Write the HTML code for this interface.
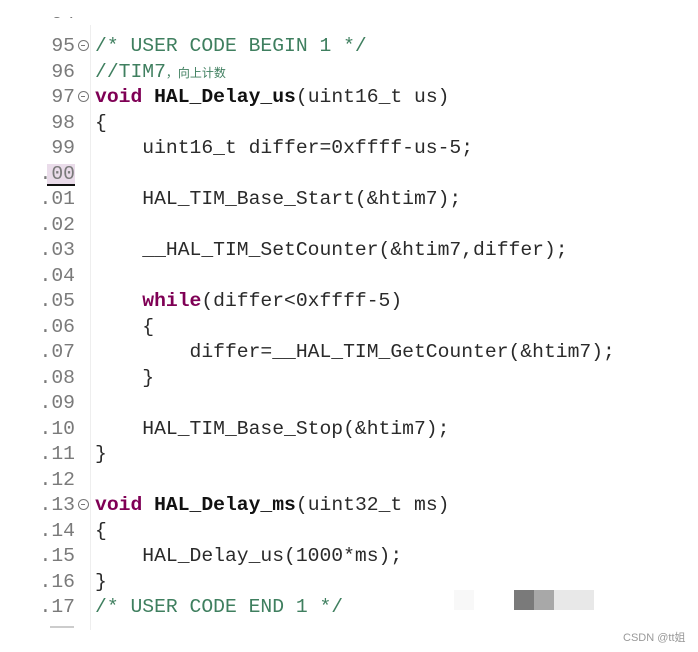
<!DOCTYPE html>
<html><head><meta charset="utf-8"><style>
body{margin:0;width:698px;height:652px;background:#fff;position:relative;overflow:hidden;font-family:"Liberation Mono","Noto Sans CJK SC",monospace;}
.l{position:absolute;left:0;width:698px;height:24px;line-height:24px;font-size:19.7px;white-space:pre;color:#2a2a2a;}
.n{position:absolute;right:623px;top:0;color:#7a7a7a;}
.c{position:absolute;left:95px;top:0;}
.cm{color:#3f7f5f}
.kw{color:#7f0055;font-weight:bold}
.b{font-weight:bold;color:#111}
.f{position:absolute;left:78px;top:6px;width:11px;height:11px;border:1.5px solid #777;border-radius:50%;box-sizing:border-box;}
.f:after{content:"";position:absolute;left:2px;top:3.5px;width:4px;height:1.5px;background:#777;}
.gut{position:absolute;left:90px;top:25px;width:1px;height:605px;background:#eee;}
</style></head><body>
<div class="gut"></div>
<div style="position:absolute;left:0;top:17px;width:698px;height:5px;overflow:hidden"><div class="l" style="top:-16px"><span class="n">94</span></div></div>
<div class="l" style="top:34px"><span class="n">95</span><span class="f"></span><span class="c cm">/* USER CODE BEGIN 1 */</span></div>
<div class="l" style="top:60px"><span class="n">96</span><span class="c cm">//TIM7<span style="font-size:12px;font-family:'Noto Sans CJK SC',sans-serif">，向上计数</span></span></div>
<div class="l" style="top:85px"><span class="n">97</span><span class="f"></span><span class="c"><span class="kw">void</span> <span class="b">HAL_Delay_us</span>(uint16_t us)</span></div>
<div class="l" style="top:111px"><span class="n">98</span><span class="c">{</span></div>
<div class="l" style="top:136px"><span class="n">99</span><span class="c">    uint16_t differ=0xffff-us-5;</span></div>
<div style="position:absolute;left:47px;top:164px;width:28px;height:20px;background:#eadcea"></div>
<div style="position:absolute;left:47px;top:184px;width:28px;height:2px;background:#111"></div>
<div class="l" style="top:162px"><span class="n">.00</span></div>
<div class="l" style="top:187px"><span class="n">.01</span><span class="c">    HAL_TIM_Base_Start(&amp;htim7);</span></div>
<div class="l" style="top:213px"><span class="n">.02</span></div>
<div class="l" style="top:238px"><span class="n">.03</span><span class="c">    __HAL_TIM_SetCounter(&amp;htim7,differ);</span></div>
<div class="l" style="top:264px"><span class="n">.04</span></div>
<div class="l" style="top:289px"><span class="n">.05</span><span class="c">    <span class="kw">while</span>(differ&lt;0xffff-5)</span></div>
<div class="l" style="top:315px"><span class="n">.06</span><span class="c">    {</span></div>
<div class="l" style="top:340px"><span class="n">.07</span><span class="c">        differ=__HAL_TIM_GetCounter(&amp;htim7);</span></div>
<div class="l" style="top:366px"><span class="n">.08</span><span class="c">    }</span></div>
<div class="l" style="top:391px"><span class="n">.09</span></div>
<div class="l" style="top:417px"><span class="n">.10</span><span class="c">    HAL_TIM_Base_Stop(&amp;htim7);</span></div>
<div class="l" style="top:442px"><span class="n">.11</span><span class="c">}</span></div>
<div class="l" style="top:468px"><span class="n">.12</span></div>
<div class="l" style="top:493px"><span class="n">.13</span><span class="f"></span><span class="c"><span class="kw">void</span> <span class="b">HAL_Delay_ms</span>(uint32_t ms)</span></div>
<div class="l" style="top:519px"><span class="n">.14</span><span class="c">{</span></div>
<div class="l" style="top:544px"><span class="n">.15</span><span class="c">    HAL_Delay_us(1000*ms);</span></div>
<div class="l" style="top:570px"><span class="n">.16</span><span class="c">}</span></div>
<div class="l" style="top:595px"><span class="n">.17</span><span class="c cm">/* USER CODE END 1 */</span></div>
<div style="position:absolute;left:50px;top:626px;width:24px;height:2px;background:#ccc"></div>
<div style="position:absolute;left:454px;top:590px;width:20px;height:20px;background:#f8f8f8"></div>
<div style="position:absolute;left:514px;top:590px;width:20px;height:20px;background:#7a7a7a"></div>
<div style="position:absolute;left:534px;top:590px;width:20px;height:20px;background:#a8a8a8"></div>
<div style="position:absolute;left:554px;top:590px;width:40px;height:20px;background:#e8e8e8"></div>
<div style="position:absolute;left:623px;top:629px;font-size:11px;color:#999;font-family:'Liberation Sans','Noto Sans CJK SC',sans-serif">CSDN @tt姐</div>
</body></html>
